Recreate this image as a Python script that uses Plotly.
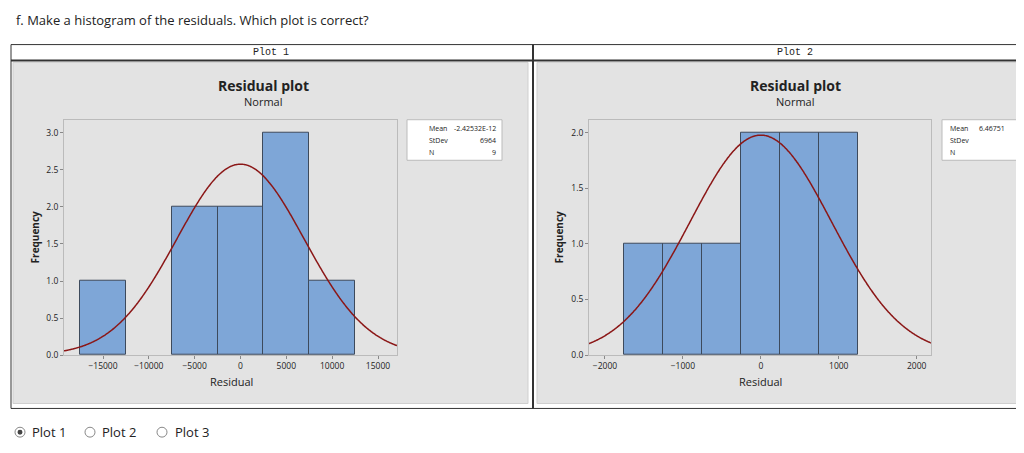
import numpy as np
import plotly.graph_objects as go

# ---- data ----
p1_centers = [-15000, -10000, -5000, 0, 5000, 10000]
p1_counts = [1, None, 2, 2, 3, 1]
p1_binwidth = 5000
p1_mean, p1_sd, p1_n = -2.42532e-12, 6964, 9
p1_ticks = [-15000, -10000, -5000, 0, 5000, 10000, 15000]

p2_centers = [-1500, -1000, -500, 0, 500, 1000]
p2_counts = [1, 1, 1, 2, 2, 2]
p2_binwidth = 500
p2_mean, p2_sd, p2_n = 6.46751e-13, 907, 9
p2_ticks = [-2000, -1000, 0, 1000, 2000]

OFF = 8  # default page body margin
W, H = 1024 - OFF, 453 - OFF
def px(x): return (x - OFF) / W
def py(y): return 1 - (y - OFF) / H

fig = go.Figure()
BAR = "#7ea6d7"; EDGE = "#3d4a5c"; CURVE = "#8b1717"

def add_panel(i, centers, counts, bw, mean, sd, n, xr):
    xa = "x" if i == 1 else "x2"; ya = "y" if i == 1 else "y2"
    fig.add_trace(go.Bar(x=centers, y=counts, width=bw, marker=dict(color=BAR, line=dict(color=EDGE, width=1)),
                         xaxis=xa, yaxis=ya, showlegend=False))
    xs = np.linspace(xr[0], xr[1], 400)
    ys = n * bw / (sd * np.sqrt(2 * np.pi)) * np.exp(-0.5 * ((xs - mean) / sd) ** 2)
    fig.add_trace(go.Scatter(x=xs, y=ys, mode="lines", line=dict(color=CURVE, width=1.5, shape="spline"),
                             xaxis=xa, yaxis=ya, showlegend=False))

add_panel(1, p1_centers, p1_counts, p1_binwidth, p1_mean, p1_sd, p1_n, (-19255, 17073))
add_panel(2, p2_centers, p2_counts, p2_binwidth, p2_mean, p2_sd, p2_n, (-2205, 2184))

tickf = dict(family="Open Sans, sans-serif", size=8.5, color="#222")
axcommon = dict(showgrid=False, zeroline=False, ticks="outside", ticklen=3, tickcolor="#888",
                tickfont=tickf, showline=True, linecolor="#bbb", mirror=True)
fig.update_layout(
    width=W, height=H, margin=dict(l=0, r=0, t=0, b=0), paper_bgcolor="white", plot_bgcolor="white",
    bargap=0,
    xaxis=dict(domain=[px(64), px(397)], range=[-19255, 17073], tickvals=p1_ticks, tickformat="d", anchor="y", **axcommon),
    yaxis=dict(domain=[py(359), py(121)], range=[0, 3.178], tickvals=[0, 0.5, 1, 1.5, 2, 2.5, 3],
               ticktext=["0.0", "0.5", "1.0", "1.5", "2.0", "2.5", "3.0"], anchor="x", **axcommon),
    xaxis2=dict(domain=[px(589), px(931)], range=[-2205, 2184], tickvals=p2_ticks, tickformat="d", anchor="y2", **axcommon),
    yaxis2=dict(domain=[py(359), py(121)], range=[0, 2.118], tickvals=[0, 0.5, 1, 1.5, 2],
                ticktext=["0.0", "0.5", "1.0", "1.5", "2.0"], anchor="x2", **axcommon),
)

shapes = []
def rect(x0, y0, x1, y1, **kw):
    shapes.append(dict(type="rect", xref="paper", yref="paper", x0=px(x0), x1=px(x1), y0=py(y1), y1=py(y0), layer="below", **kw))
rect(13, 63, 528, 408, fillcolor="#e3e3e3", line=dict(color="#cfcfcf", width=1))
rect(537, 63, 1030, 408, fillcolor="#e3e3e3", line=dict(color="#cfcfcf", width=1))
rect(11, 45, 1030, 413, fillcolor="rgba(0,0,0,0)", line=dict(color="#333", width=1))
shapes.append(dict(type="line", xref="paper", yref="paper", x0=px(11), x1=px(1030), y0=py(61), y1=py(61), line=dict(color="#333", width=2)))
shapes.append(dict(type="line", xref="paper", yref="paper", x0=px(533), x1=px(533), y0=py(45), y1=py(413), line=dict(color="#333", width=2)))
rect(407, 121, 502, 162, fillcolor="white", line=dict(color="#bbb", width=1))
rect(942, 121, 1030, 162, fillcolor="white", line=dict(color="#bbb", width=1))
for cx, sel in [(20, True), (90, False), (162, False)]:
    shapes.append(dict(type="circle", xref="paper", yref="paper", x0=px(cx-5), x1=px(cx+5), y0=py(442), y1=py(432),
                       fillcolor="white", line=dict(color="#888", width=1)))
    if sel:
        shapes.append(dict(type="circle", xref="paper", yref="paper", x0=px(cx-2.5), x1=px(cx+2.5), y0=py(439.5), y1=py(434.5),
                           fillcolor="#444", line=dict(width=0)))
fig.update_layout(shapes=shapes)

ann = []
def text(x, y, s, size=12, fam="Open Sans, sans-serif", xanchor="center", bold=False, angle=0, color="#222"):
    ann.append(dict(xref="paper", yref="paper", x=px(x), y=py(y), text=("<b>%s</b>" % s if bold else s), showarrow=False,
                    xanchor=xanchor, yanchor="middle", font=dict(family=fam, size=size, color=color), textangle=angle))
text(14, 20, "f. Make a histogram of the residuals. Which plot is correct?", size=13, xanchor="left")
text(271, 53, "Plot 1", size=10, fam="Liberation Mono, monospace")
text(795, 53, "Plot 2", size=10, fam="Liberation Mono, monospace")
for cx in (263, 795):
    text(cx, 86, "Residual plot", size=14, bold=True)
    text(cx, 103, "Normal", size=11)
text(231, 386, "Residual", size=11)
text(760, 386, "Residual", size=11)
text(35, 240, "Frequency", size=10, bold=True, angle=-90)
text(559, 240, "Frequency", size=10, bold=True, angle=-90)
for (x0, x1, rows) in [(427, 498, [("Mean", "-2.42532E-12"), ("StDev", "6964"), ("N", "9")]),
                       (948, 1060, [("Mean", "6.46751"), ("StDev", ""), ("N", "")])]:
    for k, (lab, val) in enumerate(rows):
        yy = 130 + k * 12
        text(x0, yy, lab, size=7, xanchor="left")
        if x1 < 1024:
            text(x1, yy, val, size=7, xanchor="right")
        elif val:
            text(x0 + 29, yy, val, size=7, xanchor="left")
text(30, 437, "Plot 1", size=13, xanchor="left")
text(100, 437, "Plot 2", size=13, xanchor="left")
text(173, 437, "Plot 3", size=13, xanchor="left")
fig.update_layout(annotations=ann)

fig.write_html("out.html")
